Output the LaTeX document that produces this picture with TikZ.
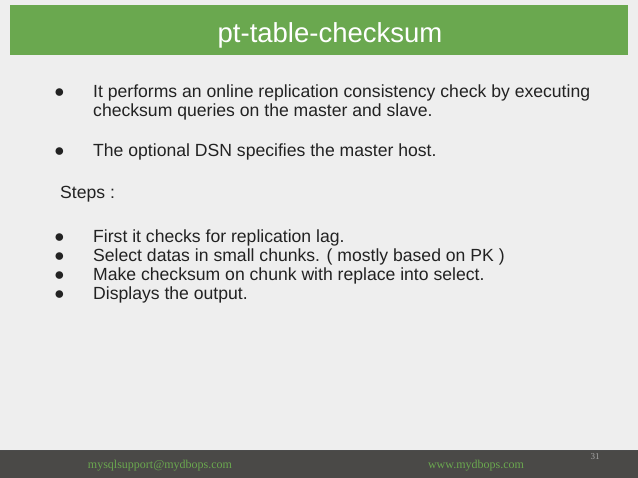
\documentclass[tikz,border=0pt]{standalone}
\usepackage{fontspec}
\setmainfont{Liberation Sans}
\newfontfamily\serifft{Liberation Serif}
\definecolor{bg}{HTML}{EEEEEE}
\definecolor{titlegreen}{HTML}{6AA84F}
\definecolor{foot}{HTML}{4A4947}
\definecolor{foottext}{HTML}{6AA84F}
\definecolor{txt}{HTML}{222222}
\tikzset{body/.style={anchor=base west,inner sep=0pt,text=txt,font=\fontsize{17.6}{20}\selectfont},
 bul/.style={anchor=base west,inner sep=0pt,text=txt,font=\fontsize{17.6}{20}\selectfont}}
\begin{document}
\begin{tikzpicture}[x=1pt,y=-1pt]
\fill[bg] (0,0) rectangle (638,478);
\useasboundingbox (0,0) rectangle (638,478);
\fill[titlegreen] (10,5) rectangle (628,55);
\node[text=white,font=\fontsize{27.5}{30}\selectfont] (title) at (330,35) {pt-table-checksum};
\node[bul] (b1) at (54,98) {●};
\node[body] (t1) at (93,98) {It performs an online replication consistency check by executing};
\node[body] (t1b) at (93,117) {checksum queries on the master and slave.};
\node[bul] (b2) at (54,157) {●};
\node[body] (t2) at (93,157) {The optional DSN specifies the master host.};
\node[body] (s) at (60,199) {Steps :};
\node[bul] (b3) at (54,243) {●};
\node[body] (t3) at (93,243) {First it checks for replication lag.};
\node[bul] (b4) at (54,262) {●};
\node[body] (t4) at (93,262) {Select datas in small chunks. ( mostly based on PK )};
\node[bul] (b5) at (54,281) {●};
\node[body] (t5) at (93,281) {Make checksum on chunk with replace into select.};
\node[bul] (b6) at (54,300) {●};
\node[body] (t6) at (93,300) {Displays the output.};
\fill[foot] (0,450) rectangle (638,478);
\draw[black!70,line width=1pt] (0,450.5) -- (638,450.5);
\node[text=foottext,font=\serifft\fontsize{12}{14}\selectfont] (f1) at (160,466) {mysqlsupport@mydbops.com};
\node[text=foottext,font=\serifft\fontsize{12}{14}\selectfont] (f2) at (476,466) {www.mydbops.com};
\node[text=gray!70,font=\serifft\fontsize{9}{10}\selectfont] (pg) at (595,457) {31};
\end{tikzpicture}
\end{document}
